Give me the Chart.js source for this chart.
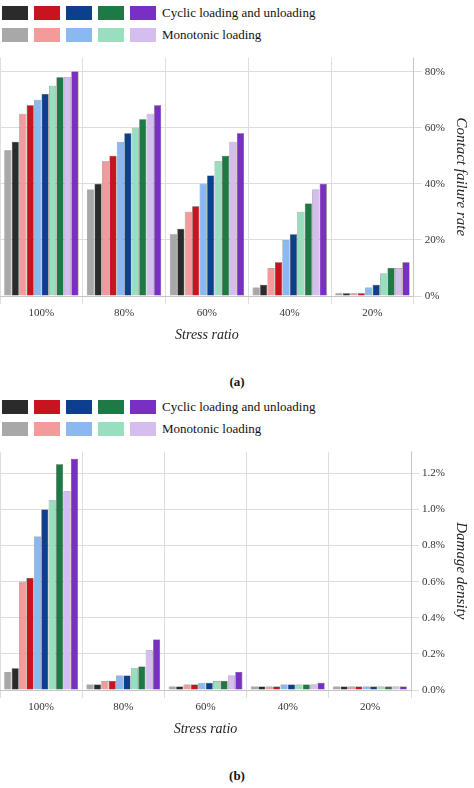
<!DOCTYPE html>
<html><head><meta charset="utf-8">
<script src="https://cdn.jsdelivr.net/npm/chart.js@4"></script>
<style>
body{margin:0;background:#fff;font-family:"Liberation Serif",serif;width:474px;color:#111}
.panel{position:relative;height:394px}
.leg{position:absolute;left:2px;top:2px;font-size:13px}
.row{display:flex;align-items:center;height:22px}
.sw{width:26px;height:14px;margin-right:6px}
.cap{position:absolute;left:0;width:474px;text-align:center;bottom:4px;font-weight:bold;font-size:13px}
.cv{position:absolute;left:0;top:48px;width:474px;height:300px}
</style></head><body>
<div class="panel"><div class="leg" id="leg1"></div><div class="cv"><canvas id="c1"></canvas></div><div class="cap">(a)</div></div>
<div class="panel"><div class="leg" id="leg2"></div><div class="cv"><canvas id="c2"></canvas></div><div class="cap">(b)</div></div>
<script>
const stressRatios = ['100%', '80%', '60%', '40%', '20%'];
const pressures = ['0MPa', '5MPa', '10MPa', '15MPa', '20MPa'];
const cyclicColors = ['#2b2b2b', '#c8141e', '#0d3f8f', '#1d7a45', '#7a2fc4'];
const monoColors = ['#a8a8a8', '#f59a9a', '#8ab8f0', '#98dfbe', '#d6bdf0'];

// contact failure rate (%), per pressure, across stress ratios
const failMono = [[52,38,22,3,1],[65,48,30,10,1],[70,55,40,20,3],[75,60,48,30,8],[78,65,55,38,10]];
const failCyc  = [[55,40,24,4,1],[68,50,32,12,1],[72,58,43,22,4],[78,63,50,33,10],[80,68,58,40,12]];
// damage density (%)
const dmgMono = [[0.10,0.03,0.02,0.02,0.02],[0.60,0.05,0.03,0.02,0.02],[0.85,0.08,0.04,0.03,0.02],[1.05,0.12,0.05,0.03,0.02],[1.10,0.22,0.08,0.03,0.02]];
const dmgCyc  = [[0.12,0.03,0.02,0.02,0.02],[0.62,0.05,0.03,0.02,0.02],[1.00,0.08,0.04,0.03,0.02],[1.25,0.13,0.05,0.03,0.02],[1.28,0.28,0.10,0.04,0.02]];

function legend(id){
  const el = document.getElementById(id);
  const mk = (cols, txt) => '<div class="row">' + cols.map(c => `<div class="sw" style="background:${c}"></div>`).join('') + `<span>${txt}</span></div>`;
  el.innerHTML = mk(cyclicColors, 'Cyclic loading and unloading') + mk(monoColors, 'Monotonic loading');
}
legend('leg1'); legend('leg2');

function build(id, mono, cyc, yTitle, max, step, fmt){
  const datasets = [];
  pressures.forEach((p, i) => {
    datasets.push({label: p + ' monotonic', data: mono[i], backgroundColor: monoColors[i], borderColor: '#555', borderWidth: 0.5});
    datasets.push({label: p + ' cyclic', data: cyc[i], backgroundColor: cyclicColors[i], borderColor: '#222', borderWidth: 0.5});
  });
  new Chart(document.getElementById(id), {
    type: 'bar',
    data: {labels: stressRatios, datasets},
    options: {
      responsive: true, maintainAspectRatio: false, animation: false,
      categoryPercentage: 0.9, barPercentage: 0.95,
      plugins: {legend: {display: false}},
      scales: {
        x: {title: {display: true, text: 'Stress ratio', color: '#222', font: {family: 'Liberation Serif', size: 14, style: 'italic'}},
            ticks: {color: '#333', font: {family: 'Liberation Serif', size: 11}}, grid: {color: '#ddd'}},
        y: {position: 'right', min: 0, max: max,
            afterBuildTicks: ax => { ax.ticks = ax.ticks.filter(t => Math.abs(t.value / step - Math.round(t.value / step)) < 1e-6); },
            title: {display: true, text: yTitle, color: '#222', font: {family: 'Liberation Serif', size: 15, style: 'italic'}},
            ticks: {stepSize: step, color: '#333', callback: fmt, font: {family: 'Liberation Serif', size: 11}}, grid: {color: '#ddd'}}
      }
    }
  });
}
build('c1', failMono, failCyc, 'Contact failure rate', 85, 20, v => v + '%');
build('c2', dmgMono, dmgCyc, 'Damage density', 1.32, 0.2, v => v.toFixed(1) + '%');
</script>
</body></html>
